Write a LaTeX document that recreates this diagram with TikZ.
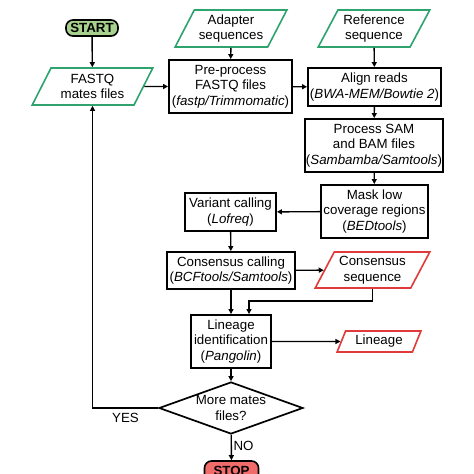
\documentclass[tikz,border=0pt]{standalone}
\usepackage{fontspec}
\setmainfont{Liberation Sans}
\usetikzlibrary{shapes.geometric,arrows.meta}
\definecolor{pgreen}{HTML}{2EA36E}
\definecolor{sgreen}{HTML}{A8D18D}
\definecolor{pred}{HTML}{E03A3A}
\definecolor{sred}{HTML}{F26B6B}
\tikzset{
  txt/.style={font=\fontsize{13.3}{15.5}\selectfont, align=center, inner sep=0pt},
  procbox/.style={txt, draw=black, line width=1.9pt, rectangle},
  para/.style={txt, trapezium, trapezium stretches=true, line width=1.6pt},
  greenpara/.style={para, draw=pgreen},
  redpara/.style={para, draw=pred},
  term/.style={draw=black, line width=1.6pt, rounded corners=7pt, inner sep=0pt,
    font=\fontsize{13.3}{15.5}\selectfont\bfseries},
  arr/.style={line width=1.4pt, -{Triangle[length=5pt,width=5pt]}},
  lbl/.style={font=\fontsize{13.3}{15.5}\selectfont, inner sep=0pt}
}
\begin{document}
\begin{tikzpicture}[x=1pt,y=-1pt]
\useasboundingbox (0,0) rectangle (474,474);
\clip (0,0) rectangle (474,474);
\fill[white] (0,0) rectangle (474,474);

\node[term, fill=sgreen, minimum width=52pt, minimum height=16pt] (start) at (92,28) {START};
\node[greenpara, trapezium left angle=60, trapezium right angle=120, minimum width=121pt, minimum height=37pt] (fastq) at (92.5,86.5) {FASTQ\\mates files};
\node[greenpara, trapezium left angle=59, trapezium right angle=121, minimum width=112pt, minimum height=37pt] (adapt) at (231,28.5) {Adapter\\sequences};
\node[greenpara, trapezium left angle=59, trapezium right angle=121, minimum width=112pt, minimum height=37pt] (ref) at (374,28.5) {Reference\\sequence};

\node[procbox, minimum width=123pt, minimum height=53pt] (pre) at (230.5,86.5) {Pre-process\\FASTQ files\\(\textit{fastp/Trimmomatic})};
\node[procbox, minimum width=133pt, minimum height=38pt] (align) at (374.5,87) {Align reads\\(\textit{BWA-MEM/Bowtie 2})};
\node[procbox, minimum width=138pt, minimum height=53pt] (sam) at (374,145.5) {Process SAM\\and BAM files\\(\textit{Sambamba/Samtools})};
\node[procbox, minimum width=107pt, minimum height=53pt] (mask) at (374.5,211.5) {Mask low\\coverage regions\\(\textit{BEDtools})};
\node[procbox, minimum width=91pt, minimum height=38pt] (var) at (230.5,212) {Variant calling\\(\textit{Lofreq})};
\node[procbox, minimum width=128pt, minimum height=37pt] (cons) at (231,270.5) {Consensus calling\\(\textit{BCFtools/Samtools})};
\node[redpara, trapezium left angle=59, trapezium right angle=121, minimum width=115pt, minimum height=36pt] (cseq) at (372.5,270) {Consensus\\sequence};
\node[procbox, minimum width=80pt, minimum height=53pt] (linid) at (231,341.5) {Lineage\\identification\\(\textit{Pangolin})};
\node[redpara, trapezium left angle=64, trapezium right angle=116, minimum width=84pt, minimum height=21pt] (lin) at (379,341.5) {Lineage};
\node[txt, diamond, draw=black, line width=1.7pt, minimum width=144pt, minimum height=52pt, aspect=2.77] (dec) at (231,408) {More mates\\files?};
\node[term, fill=sred, minimum width=54pt, minimum height=20pt] (stop) at (231.5,471) {STOP};

\draw[arr] (start) -- (fastq);
\draw[arr] (fastq.east) -- (pre.west);
\draw[arr] (adapt) -- (pre);
\draw[arr] (pre) -- (align);
\draw[arr] (ref) -- (align);
\draw[arr] (align) -- (sam);
\draw[arr] (sam) -- (mask);
\draw[arr] (mask) -- (var);
\draw[arr] (var) -- (cons);
\draw[arr] (cons) -- (cseq);
\draw[arr] (cons) -- (linid);
\draw[arr] (cseq.south) -- ++(0,12) -| ([xshift=18pt]linid.north);
\draw[arr] (linid) -- (lin);
\draw[arr] (linid) -- (dec);
\draw[arr] (dec.west) -| (fastq.south);
\draw[arr] (dec) -- (stop);

\node[lbl] (yes) at (125.5,417.5) {YES};
\node[lbl] (no) at (243.5,446) {NO};
\end{tikzpicture}
\end{document}
